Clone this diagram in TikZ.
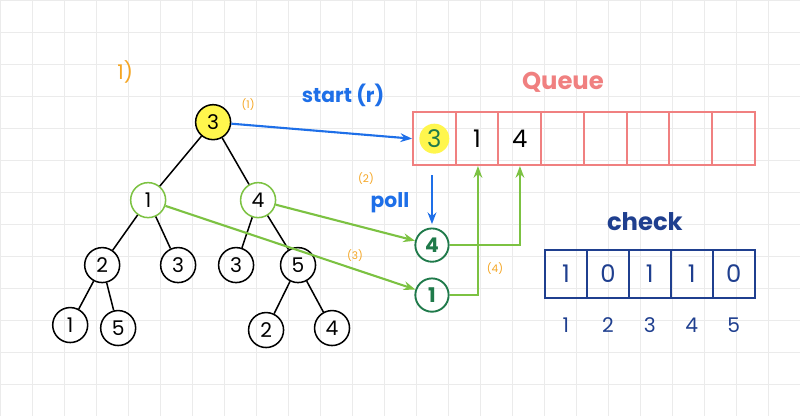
\documentclass[tikz,border=0pt]{standalone}
\usepackage{fontspec}
\setmainfont{Poppins}
\usepackage{tikz}
\usetikzlibrary{positioning,arrows.meta}
\definecolor{qred}{HTML}{F08080}
\definecolor{navy}{HTML}{1F3F8F}
\definecolor{tgreen}{HTML}{7CC242}
\definecolor{dgreen}{HTML}{1F7A4A}
\definecolor{bblue}{HTML}{1E6FE8}
\definecolor{note}{HTML}{F5A623}
\tikzset{
  tn/.style = {circle, draw, line width = 1.3pt, minimum size = 1.05cm, inner sep = 0pt, font = \LARGE},
  gn/.style = {tn, draw = tgreen},
  qn/.style = {circle, draw = dgreen, line width = 1.6pt, minimum size = 1cm, inner sep = 0pt, font = \LARGE\bfseries, text = dgreen},
  cell/.style = {draw = qred, line width = 1.6pt, minimum width = 1.28cm, minimum height = 1.59cm, inner sep = 0pt, font = \huge},
  ccell/.style = {draw = navy, line width = 1.6pt, minimum width = 1.26cm, minimum height = 1.44cm, inner sep = 0pt, font = \huge, text = navy},
  tag/.style = {text = note, font = \small},
  garrow/.style = {draw = tgreen, line width = 1.8pt, -{Stealth[length=3.5mm]}}
}
\begin{document}
\begin{tikzpicture}[x = 0.03cm, y = -0.03cm]
  \fill[white] (0, 0) rectangle (800, 416);
  \draw[black!8, step = 0.96cm] (0, 0) grid (800, 416);
  \useasboundingbox (0, 0) rectangle (800, 416);

  \node[tag, font = \LARGE] (T) at (125, 72) {1)};

  % tree
  \node[tn, fill = yellow!70] (R) at (213, 122) {3};
  \node[tag] (L1) at (248, 104) {(1)};
  \node[gn] (A) at (148, 200) {1};
  \node[gn] (B) at (258, 200) {4};
  \node[tn] (A1) at (102, 265) {2};
  \node[tn] (A2) at (178, 265) {3};
  \node[tn] (B1) at (236, 265) {3};
  \node[tn] (B2) at (298, 265) {5};
  \node[tn] (C1) at (70, 325) {1};
  \node[tn] (C2) at (118, 328) {5};
  \node[tn] (D1) at (266, 330) {2};
  \node[tn] (D2) at (332, 328) {4};

  \draw[line width = 1.3pt] (R) -- (A);
  \draw[line width = 1.3pt] (R) -- (B);
  \draw[line width = 1.3pt] (A) -- (A1);
  \draw[line width = 1.3pt] (A) -- (A2);
  \draw[line width = 1.3pt] (B) -- (B1);
  \draw[line width = 1.3pt] (B) -- (B2);
  \draw[line width = 1.3pt] (A1) -- (C1);
  \draw[line width = 1.3pt] (A1) -- (C2);
  \draw[line width = 1.3pt] (B2) -- (D1);
  \draw[line width = 1.3pt] (B2) -- (D2);

  % queue
  \node[text = qred, font = \huge\bfseries] (QL) at (563, 82) {Queue};
  \foreach \i in {1, ..., 8} {
    \node[cell] (Q\i) at (413 + 42.75 * \i - 21.4, 138.5) {};
  }
  \fill[yellow!70] (Q1) circle (15);
  \node[font = \huge, text = dgreen] at (Q1) {3};
  \node[font = \huge] at (Q2) {1};
  \node[font = \huge] at (Q3) {4};

  \node[text = bblue, font = \LARGE\bfseries] (S) at (343, 95) {start (r)};
  \draw[bblue, line width = 1.8pt, -{Stealth[length=3.5mm]}] (R) -- (Q1.west);

  \node[tag] (L2) at (366, 178) {(2)};
  \node[text = bblue, font = \LARGE\bfseries] (P) at (390, 203) {poll};
  \coordinate (PT) at (432, 175);
  \coordinate (PB) at (432, 224);
  \draw[bblue, line width = 1.8pt, -{Stealth[length=3.5mm]}] (PT) -- (PB);

  \node[qn] (N4) at (432, 245) {4};
  \node[qn] (N1) at (432, 295) {1};
  \node[tag] (L3) at (355, 255) {(3)};
  \draw[garrow] (B) -- (N4);
  \draw[garrow] (A) -- (N1);

  \node[tag] (L4) at (495, 268) {(4)};
  \draw[garrow] (N4) -- (520, 245) -- (Q3.south -| 520, 0);
  \draw[garrow] (N1) -- (478, 295) -- (Q2.south -| 478, 0);

  % check
  \node[text = navy, font = \huge\bfseries] (CL) at (645, 222) {check};
  \foreach \v [count = \i] in {1, 0, 1, 1, 0} {
    \node[ccell] (K\i) at (545 + 42 * \i - 21, 274) {\v};
    \node[text = navy, font = \LARGE] (I\i) at (545 + 42 * \i - 21, 325) {\i};
  }
\end{tikzpicture}
\end{document}
